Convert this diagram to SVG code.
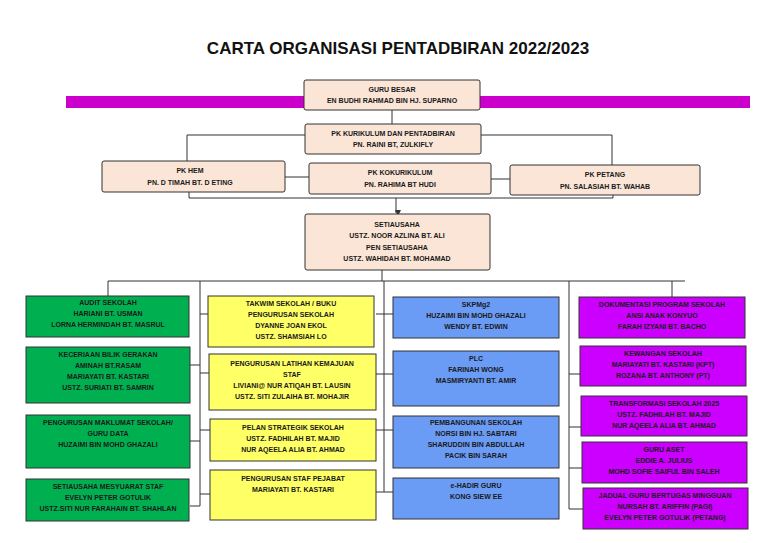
<svg xmlns="http://www.w3.org/2000/svg" width="768" height="543" viewBox="0 0 768 543">
<style>
text{font-family:"Liberation Sans",Arial,sans-serif;font-weight:bold;font-size:7px;fill:#1a1a1a;text-anchor:middle}
.t{font-size:17px;fill:#111}
.p{fill:#FBE5D6;stroke:#333;stroke-width:1}
.g{fill:#00B050;stroke:#333;stroke-width:1}
.y{fill:#FFFF66;stroke:#333;stroke-width:1}
.b{fill:#6A9BF5;stroke:#333;stroke-width:1}
.m{fill:#CC00FF;stroke:#333;stroke-width:1}
#conn line,#conn polyline{stroke:#333;stroke-width:1;fill:none}
</style>
<defs><marker id="ar" markerWidth="6" markerHeight="6" refX="3" refY="5" orient="auto" markerUnits="userSpaceOnUse"><path d="M0,0 L6,0 L3,6 z" fill="#333" transform="rotate(-90 3 3)"/></marker></defs>
<rect width="768" height="543" fill="#fff"/>
<text class="t" x="398" y="54">CARTA ORGANISASI PENTADBIRAN 2022/2023</text>
<rect x="66" y="96" width="684" height="12" fill="#CC00CC"/>
<g id="conn">
<line x1="392" y1="110" x2="392" y2="124"/>
<polyline points="305,135 187,135 187,161"/>
<polyline points="481,135 612,135 612,165"/>
<line x1="285" y1="177" x2="309" y2="177"/>
<line x1="491" y1="179" x2="510" y2="179"/>
<polyline points="189,192 189,198 613,198 613,195"/>
<line x1="396" y1="198" x2="396" y2="213" marker-end="url(#ar)"/>
<line x1="382" y1="270" x2="382" y2="281"/>
<line x1="108" y1="281" x2="685" y2="281"/>
<line x1="108" y1="281" x2="108" y2="296"/>
<line x1="200" y1="281" x2="200" y2="506"/>
<line x1="190" y1="365" x2="200" y2="365"/>
<line x1="190" y1="441" x2="200" y2="441"/>
<line x1="190" y1="506" x2="200" y2="506"/>
<line x1="200" y1="314" x2="208" y2="314"/>
<line x1="200" y1="373" x2="209" y2="373"/>
<line x1="200" y1="430" x2="210" y2="430"/>
<line x1="200" y1="494" x2="210" y2="494"/>
<line x1="384" y1="281" x2="384" y2="492"/>
<line x1="376" y1="314" x2="393" y2="314"/>
<line x1="376" y1="374" x2="393" y2="374"/>
<line x1="376" y1="430" x2="393" y2="430"/>
<line x1="376" y1="492" x2="393" y2="492"/>
<line x1="569" y1="281" x2="569" y2="509"/>
<line x1="569" y1="374" x2="580" y2="374"/>
<line x1="569" y1="427" x2="581" y2="427"/>
<line x1="569" y1="468" x2="582" y2="468"/>
<line x1="569" y1="509" x2="583" y2="509"/>
<line x1="672" y1="281" x2="672" y2="297"/>
</g>
<g id="guru"><rect class="p" x="304" y="80" width="176" height="30" rx="2"/><text x="392" y="92">GURU BESAR</text><text x="392" y="103">EN BUDHI RAHMAD BIN HJ. SUPARNO</text></g>
<g id="pkk"><rect class="p" x="305" y="124" width="176" height="30" rx="2"/><text x="393" y="136">PK KURIKULUM DAN PENTADBIRAN</text><text x="393" y="147">PN. RAINI BT, ZULKIFLY</text></g>
<g id="hem"><rect class="p" x="102" y="161" width="183" height="31" rx="2"/><text x="190" y="173">PK HEM</text><text x="190" y="185">PN. D TIMAH BT. D ETING</text></g>
<g id="koko"><rect class="p" x="309" y="163" width="182" height="31" rx="2"/><text x="400" y="175">PK KOKURIKULUM</text><text x="400" y="187">PN. RAHIMA BT HUDI</text></g>
<g id="petang"><rect class="p" x="510" y="165" width="190" height="30" rx="2"/><text x="605" y="177">PK PETANG</text><text x="605" y="189">PN. SALASIAH BT. WAHAB</text></g>
<g id="setia"><rect class="p" x="305" y="214" width="185" height="56" rx="2"/><text x="397" y="227">SETIAUSAHA</text><text x="397" y="238">USTZ. NOOR AZLINA BT. ALI</text><text x="397" y="250">PEN SETIAUSAHA</text><text x="397" y="261">USTZ. WAHIDAH BT. MOHAMAD</text></g>
<g id="audit"><rect class="g" x="26" y="296" width="163" height="41"/><text x="108" y="305">AUDIT SEKOLAH</text><text x="108" y="316">HARIANI BT. USMAN</text><text x="108" y="327">LORNA HERMINDAH BT. MASRUL</text></g>
<g id="ceria"><rect class="g" x="26" y="347" width="164" height="56"/><text x="108" y="357">KECERIAAN BILIK GERAKAN</text><text x="108" y="368">AMINAH BT.RASAM</text><text x="108" y="379">MARIAYATI BT. KASTARI</text><text x="108" y="390">USTZ. SURIATI BT. SAMRIN</text></g>
<g id="maklumat"><rect class="g" x="26" y="415" width="164" height="53"/><text x="108" y="425">PENGURUSAN MAKLUMAT SEKOLAH/</text><text x="108" y="436">GURU DATA</text><text x="108" y="447">HUZAIMI BIN MOHD GHAZALI</text></g>
<g id="mesyuarat"><rect class="g" x="26" y="479" width="163" height="42"/><text x="108" y="489">SETIAUSAHA MESYUARAT STAF</text><text x="108" y="500">EVELYN PETER GOTULIK</text><text x="108" y="511">USTZ.SITI NUR FARAHAIN BT. SHAHLAN</text></g>
<g id="takwim"><rect class="y" x="208" y="296" width="166" height="51"/><text x="291" y="306">TAKWIM SEKOLAH / BUKU</text><text x="291" y="317">PENGURUSAN SEKOLAH</text><text x="291" y="328">DYANNE JOAN EKOL</text><text x="291" y="339">USTZ. SHAMSIAH LO</text></g>
<g id="latihan"><rect class="y" x="209" y="354" width="167" height="56"/><text x="292" y="366">PENGURUSAN LATIHAN KEMAJUAN</text><text x="292" y="377">STAF</text><text x="292" y="388">LIVIANI@ NUR ATIQAH BT. LAUSIN</text><text x="292" y="399">USTZ. SITI ZULAIHA BT. MOHAJIR</text></g>
<g id="pelan"><rect class="y" x="210" y="419" width="166" height="42"/><text x="293" y="430">PELAN STRATEGIK SEKOLAH</text><text x="293" y="441">USTZ. FADHILAH BT. MAJID</text><text x="293" y="452">NUR AQEELA ALIA BT. AHMAD</text></g>
<g id="pejabat"><rect class="y" x="210" y="470" width="166" height="50"/><text x="293" y="481">PENGURUSAN STAF PEJABAT</text><text x="293" y="492">MARIAYATI BT. KASTARI</text></g>
<g id="skpm"><rect class="b" x="393" y="297" width="166" height="41"/><text x="476" y="307">SKPMg2</text><text x="476" y="318">HUZAIMI BIN MOHD GHAZALI</text><text x="476" y="329">WENDY BT. EDWIN</text></g>
<g id="plc"><rect class="b" x="393" y="351" width="166" height="55"/><text x="476" y="361">PLC</text><text x="476" y="372">FARINAH WONG</text><text x="476" y="383">MASMIRYANTI BT. AMIR</text></g>
<g id="bangun"><rect class="b" x="393" y="416" width="166" height="52"/><text x="476" y="425">PEMBANGUNAN SEKOLAH</text><text x="476" y="436">NORSI BIN HJ. SABTARI</text><text x="476" y="447">SHARUDDIN BIN ABDULLAH</text><text x="476" y="458">PACIK BIN SARAH</text></g>
<g id="hadir"><rect class="b" x="393" y="478" width="166" height="41"/><text x="476" y="488">e-HADIR GURU</text><text x="476" y="499">KONG SIEW EE</text></g>
<g id="dok"><rect class="m" x="579" y="297" width="166" height="41"/><text x="662" y="307">DOKUMENTASI PROGRAM SEKOLAH</text><text x="662" y="318">ANSI ANAK KONYUO</text><text x="662" y="329">FARAH IZYANI BT. BACHO</text></g>
<g id="wang"><rect class="m" x="580" y="346" width="166" height="40"/><text x="663" y="356">KEWANGAN SEKOLAH</text><text x="663" y="367">MARIAYATI BT. KASTARI (KPT)</text><text x="663" y="378">ROZANA BT. ANTHONY (PT)</text></g>
<g id="trans"><rect class="m" x="581" y="396" width="166" height="40"/><text x="664" y="406">TRANSFORMASI SEKOLAH 2025</text><text x="664" y="417">USTZ. FADHILAH BT. MAJID</text><text x="664" y="428">NUR AQEELA ALIA BT. AHMAD</text></g>
<g id="aset"><rect class="m" x="582" y="442" width="165" height="41"/><text x="664" y="452">GURU ASET</text><text x="664" y="463">EDDIE A. JULIUS</text><text x="664" y="474">MOHD SOFIE SAIFUL BIN SALEH</text></g>
<g id="jadual"><rect class="m" x="583" y="488" width="165" height="41"/><text x="665" y="498">JADUAL GURU BERTUGAS MINGGUAN</text><text x="665" y="509">NURSAH BT. ARIFFIN (PAGI)</text><text x="665" y="520">EVELYN PETER GOTULIK (PETANG)</text></g>
</svg>
